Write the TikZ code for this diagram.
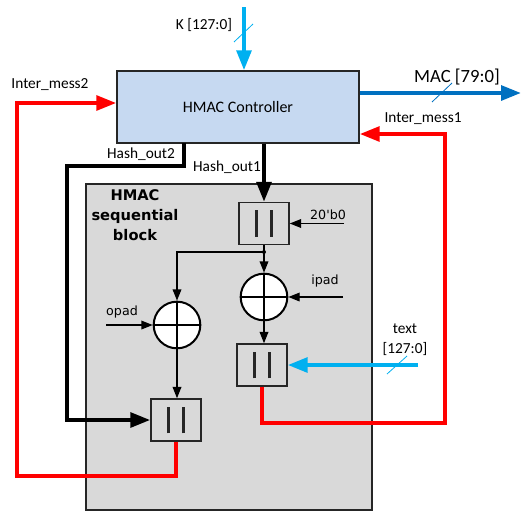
\documentclass[tikz,border=0pt]{standalone}
\usepackage{fontspec}
\setmainfont{Carlito}
\newfontfamily\dvs{DejaVu Sans}
\usetikzlibrary{arrows.meta,calc}
\definecolor{kcyan}{HTML}{00B0F0}
\definecolor{macblue}{HTML}{0070C0}
\definecolor{ctrlblue}{HTML}{C6D9F1}
\definecolor{seqgray}{HTML}{D9D9D9}
\definecolor{lred}{HTML}{FF0000}
\begin{document}
\begin{tikzpicture}[x=0.75pt,y=-0.75pt,
  ctrlbox/.style={draw=black!85, line width=1.1pt, fill=ctrlblue, minimum width=181.5pt, minimum height=54pt, inner sep=0pt, font=\fontsize{12}{14}\selectfont},
  seqbox/.style={draw=black!85, line width=1.1pt, fill=seqgray, minimum width=214.5pt, minimum height=244.5pt, inner sep=0pt},
  catbox/.style={draw=black!85, line width=1.1pt, minimum width=37.5pt, minimum height=31.5pt, inner sep=0pt,
    path picture={\draw[line width=2.4pt] ([xshift=-5.6pt,yshift=-10pt]path picture bounding box.center) -- ++(0,20pt);
                  \draw[line width=2.4pt] ([xshift=5.6pt,yshift=-10pt]path picture bounding box.center) -- ++(0,20pt);}},
  xorc/.style={circle, draw, fill=white, line width=1.5pt, minimum size=35pt, inner sep=0pt,
    path picture={\draw[line width=1.5pt] (path picture bounding box.west) -- (path picture bounding box.east)
                  (path picture bounding box.north) -- (path picture bounding box.south);}},
  lbl/.style={font=\fontsize{11.5}{13}\selectfont, inner sep=0pt},
  slbl/.style={font=\dvs\fontsize{9.5}{11}\selectfont, inner sep=0pt},
  thinarr/.style={line width=1pt, -{Triangle[length=8.5pt,width=6.5pt]}},
  fatarr/.style={line width=3pt, -{Triangle[length=15pt,width=11pt]}},
  slash/.style={line width=0.6pt}
]
\useasboundingbox (0,0) rectangle (527,518);

% main blocks
\node[seqbox] (seq) at (229,347) {};
\node[ctrlbox] (ctrl) at (238,107) {HMAC Controller};
\node[font=\dvs\bfseries\fontsize{11}{15}\selectfont, align=center, inner sep=0pt] (seqlbl) at (135,215) {HMAC\\sequential\\block};

\node[catbox] (cat1) at (264,223.5) {};
\node[catbox] (cat2) at (262,365) {};
\node[catbox] (cat3) at (176,420) {};
\node[xorc] (xor1) at (264,297) {};
\node[xorc] (xor2) at (177,325) {};

% free ends
\coordinate (kin) at (244,7);
\coordinate (macout) at (521,93);
\coordinate (b0in) at (344,223.5);
\coordinate (ipadin) at (343,297);
\coordinate (opadin) at (106,325);
\coordinate (textin) at (418,365);
\coordinate (jn) at (264,252);
\coordinate (h2s) at (184,143);
\coordinate (h2c) at (67,166);
\coordinate (rl) at (17,476);
\coordinate (rr) at (445,423);

% K input
\draw[fatarr, kcyan] (kin) -- (kin |- ctrl.north);
\draw[slash, kcyan] (234,42) -- (253,24);
\node[lbl] (klbl) at (204,25) {K [127:0]};

% MAC output
\draw[fatarr, macblue] (macout -| ctrl.east) -- (macout);
\draw[slash, macblue] (432,102) -- (452,83);
\node[font=\fontsize{14}{16}\selectfont, inner sep=0pt] (maclbl) at (457,77) {MAC [79:0]};

% Hash_out1
\draw[fatarr] (cat1.north |- ctrl.south) -- (cat1.north);
\node[lbl] (h1lbl) at (227,167) {Hash\_out1};

% Hash_out2
\draw[fatarr] (h2s) |- (h2c) |- (cat3.west);
\node[lbl] (h2lbl) at (141,154) {Hash\_out2};

% 20'b0
\draw[thinarr] (b0in) -- (cat1.east);
\node[slbl] (b0lbl) at (328,215) {20'b0};

% junction
\draw[line width=1pt] (cat1.south) -- (jn);
\draw[thinarr] (jn) -- (xor1.north);
\draw[thinarr] (jn) -| (xor2.north);
\fill (jn) circle (2);

% ipad / opad
\draw[thinarr] (ipadin) -- (xor1.east);
\node[slbl] (ipadlbl) at (325,281) {ipad};
\draw[thinarr] (opadin) -- (xor2.west);
\node[slbl] (opadlbl) at (122,312) {opad};

\draw[thinarr] (xor1.south) -- (cat2.north -| xor1.south);
\draw[thinarr] (xor2.south) -- (cat3.north -| xor2.south);

% text input
\draw[fatarr, kcyan] (textin) -- (cat2.east);
\draw[slash, kcyan] (387,374) -- (407,356);
\node[lbl, align=center] (textlbl) at (405,340) {text\\[2pt][127:0]};

% Inter_mess1
\draw[fatarr, lred] (cat2.south) |- (rr) |- ($(ctrl.east)+(0,27)$);
\node[lbl] (im1lbl) at (423,119) {Inter\_mess1};

% Inter_mess2
\draw[fatarr, lred] (cat3.south) |- (rl) |- ($(ctrl.west)+(0,-4)$);
\node[lbl] (im2lbl) at (50,85) {Inter\_mess2};
\end{tikzpicture}
\end{document}
